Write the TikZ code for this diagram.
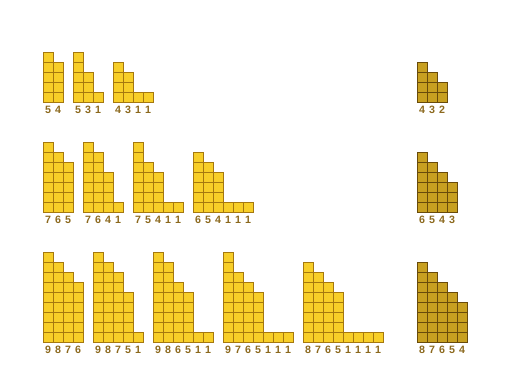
\documentclass[tikz,border=0pt]{standalone}
\usepackage{fontspec}
\setmainfont{Liberation Sans}
\definecolor{litefill}{RGB}{247,206,40}
\definecolor{liteedge}{RGB}{165,120,15}
\definecolor{darkfill}{RGB}{200,160,32}
\definecolor{darkedge}{RGB}{105,75,10}
\definecolor{labcol}{RGB}{140,105,30}
\tikzset{
  litecell/.style={fill=litefill,draw=liteedge,line width=0.6pt},
  darkcell/.style={fill=darkfill,draw=darkedge,line width=0.6pt},
  lab/.style={text=labcol,font=\fontsize{8}{9}\selectfont\bfseries,inner sep=0pt,anchor=center}
}
\newcommand{\partdiag}[4]{%
  \foreach \h [count=\i from 0] in {#3} {
    \foreach \j in {1,...,\h} {
      \draw[#4] ({#1+\i*10},{#2-\j*10}) rectangle +(10,10);
    }
    \node[lab] (l-#1-#2-\i) at ({#1+\i*10+5},{#2+7.5}) {\h};
  }
}
\begin{document}
\begin{tikzpicture}[x=0.75pt,y=-0.75pt]
\useasboundingbox (0,0) rectangle (510,382);
% row 1
\partdiag{43}{102}{5,4}{litecell}
\partdiag{73}{102}{5,3,1}{litecell}
\partdiag{113}{102}{4,3,1,1}{litecell}
\partdiag{417}{102}{4,3,2}{darkcell}
% row 2
\partdiag{43}{212}{7,6,5}{litecell}
\partdiag{83}{212}{7,6,4,1}{litecell}
\partdiag{133}{212}{7,5,4,1,1}{litecell}
\partdiag{193}{212}{6,5,4,1,1,1}{litecell}
\partdiag{417}{212}{6,5,4,3}{darkcell}
% row 3
\partdiag{43}{342}{9,8,7,6}{litecell}
\partdiag{93}{342}{9,8,7,5,1}{litecell}
\partdiag{153}{342}{9,8,6,5,1,1}{litecell}
\partdiag{223}{342}{9,7,6,5,1,1,1}{litecell}
\partdiag{303}{342}{8,7,6,5,1,1,1,1}{litecell}
\partdiag{417}{342}{8,7,6,5,4}{darkcell}
\end{tikzpicture}
\end{document}
